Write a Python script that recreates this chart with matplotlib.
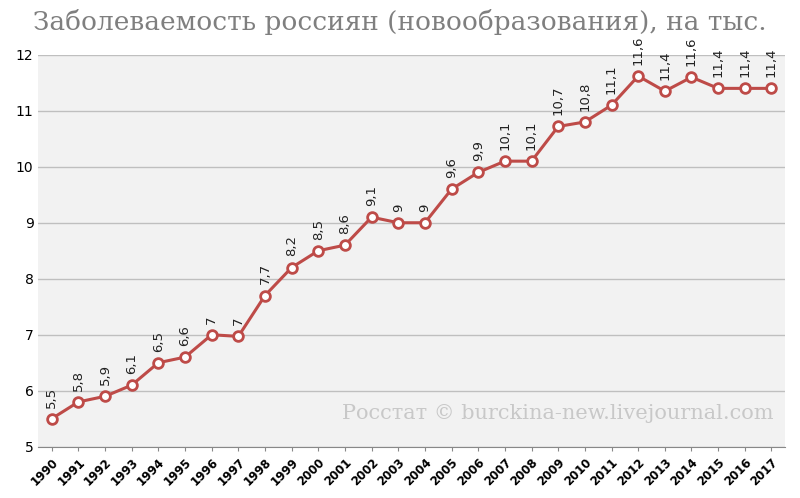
import matplotlib.pyplot as plt

years = list(range(1990, 2018))
values = [5.5, 5.8, 5.9, 6.1, 6.5, 6.6, 7.0, 6.97, 7.7, 8.2, 8.5, 8.6, 9.1, 9.0, 9.0,
          9.6, 9.9, 10.1, 10.1, 10.72, 10.8, 11.1, 11.62, 11.35, 11.6, 11.4, 11.4, 11.4]
labels = ["5,5", "5,8", "5,9", "6,1", "6,5", "6,6", "7", "7", "7,7", "8,2", "8,5", "8,6",
          "9,1", "9", "9", "9,6", "9,9", "10,1", "10,1", "10,7", "10,8", "11,1", "11,6",
          "11,4", "11,6", "11,4", "11,4", "11,4"]

fig = plt.figure(figsize=(8, 4.98), dpi=100, facecolor="white")
ax = fig.add_axes([0.048, 0.103, 0.933, 0.787])
ax.set_facecolor("#f2f2f2")

ax.plot(years, values, color="#be4b48", linewidth=2.2, marker="o", markersize=7,
        markerfacecolor="white", markeredgecolor="#be4b48", markeredgewidth=2, zorder=3)
for x, y, t in zip(years, values, labels):
    ax.annotate(t, (x, y), xytext=(0, 8), textcoords="offset points", rotation=90,
                ha="center", va="bottom", fontsize=9.5, color="#222222")

ax.set_xlim(1989.5, 2017.5)
ax.set_ylim(5, 12)
ax.set_yticks(range(5, 13))
ax.set_xticks(years)
ax.set_xticklabels([str(y) for y in years], rotation=45, ha="right",
                   rotation_mode="anchor", fontsize=8.5, fontweight="bold")
ax.tick_params(axis="y", labelsize=10, length=0)
ax.tick_params(axis="x", length=3, color="#888888")
ax.grid(axis="y", color="#bfbfbf", linewidth=1)
ax.set_axisbelow(True)
for s in ["top", "right", "left"]:
    ax.spines[s].set_visible(False)
ax.spines["bottom"].set_color("#888888")

fig.text(0.5, 0.955, "Заболеваемость россиян (новообразования), на тыс.",
         ha="center", va="center", fontsize=19, family="DejaVu Serif", color="#7f7f7f")
ax.text(0.985, 0.06, "Росстат © burckina-new.livejournal.com", transform=ax.transAxes,
        ha="right", va="bottom", fontsize=15, family="DejaVu Serif", color="#c8c8c8")

fig.savefig("out.png", dpi=100, facecolor="white")
